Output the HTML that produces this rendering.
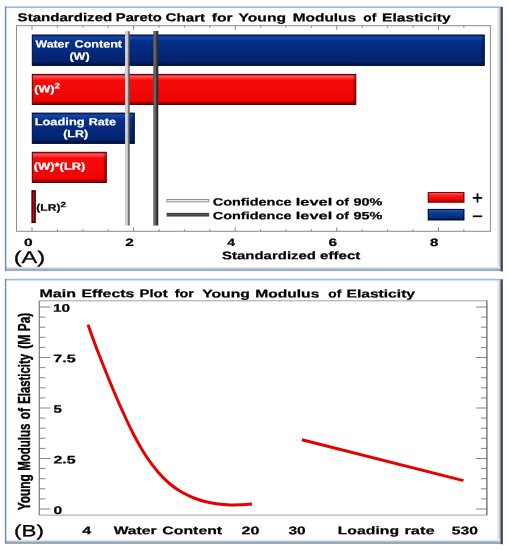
<!DOCTYPE html>
<html>
<head>
<meta charset="utf-8">
<title>Pareto chart and main effects plot</title>
<style>
html,body{margin:0;padding:0;background:#fff;}
body{width:508px;height:550px;overflow:hidden;}
svg{display:block;}
text{font-family:"Liberation Sans",sans-serif;font-weight:bold;fill:#000;stroke:#000;stroke-width:0.22px;}
.w{fill:#fff;stroke:#fff;}
.r{font-weight:normal;stroke-width:0.3px;}
.yl{stroke-width:0.4px;}
</style>
</head>
<body>
<svg width="508" height="550" viewBox="0 0 508 550">
<defs>
  <linearGradient id="shR" x1="0" x2="1" y1="0" y2="0">
    <stop offset="0" stop-color="#ffffff"/>
    <stop offset="0.5" stop-color="#dedede"/>
    <stop offset="1" stop-color="#a8a8a8"/>
  </linearGradient>
  <linearGradient id="shB" x1="0" x2="0" y1="0" y2="1">
    <stop offset="0" stop-color="#ffffff"/>
    <stop offset="0.45" stop-color="#d8d8d8"/>
    <stop offset="1" stop-color="#909090"/>
  </linearGradient>
  <linearGradient id="blue" x1="0" x2="0" y1="0" y2="1">
    <stop offset="0" stop-color="#06226e"/>
    <stop offset="0.07" stop-color="#1648a8"/>
    <stop offset="0.2" stop-color="#062f8c"/>
    <stop offset="0.85" stop-color="#02236f"/>
    <stop offset="1" stop-color="#011550"/>
  </linearGradient>
  <linearGradient id="red" x1="0" x2="0" y1="0" y2="1">
    <stop offset="0" stop-color="#d01010"/>
    <stop offset="0.07" stop-color="#ff5050"/>
    <stop offset="0.2" stop-color="#f80a0a"/>
    <stop offset="0.85" stop-color="#ee0404"/>
    <stop offset="1" stop-color="#b00000"/>
  </linearGradient>
  <linearGradient id="redL" x1="0" x2="0" y1="0" y2="1">
    <stop offset="0" stop-color="#ff5a5a"/>
    <stop offset="0.3" stop-color="#fa1818"/>
    <stop offset="0.75" stop-color="#e80808"/>
    <stop offset="1" stop-color="#b80000"/>
  </linearGradient>
  <linearGradient id="blueL" x1="0" x2="0" y1="0" y2="1">
    <stop offset="0" stop-color="#1a58b4"/>
    <stop offset="0.3" stop-color="#0a3e92"/>
    <stop offset="0.75" stop-color="#07307c"/>
    <stop offset="1" stop-color="#031c58"/>
  </linearGradient>
  <linearGradient id="l90" x1="0" x2="1" y1="0" y2="0">
    <stop offset="0" stop-color="#a0a0a0"/>
    <stop offset="0.15" stop-color="#dadada"/>
    <stop offset="0.5" stop-color="#d0d0d0"/>
    <stop offset="0.7" stop-color="#787878"/>
    <stop offset="1" stop-color="#525252"/>
  </linearGradient>
  <linearGradient id="l95" x1="0" x2="1" y1="0" y2="0">
    <stop offset="0" stop-color="#585858"/>
    <stop offset="0.4" stop-color="#6c6c6c"/>
    <stop offset="0.62" stop-color="#3a3a3a"/>
    <stop offset="1" stop-color="#242424"/>
  </linearGradient>
  <linearGradient id="l95h" x1="0" x2="0" y1="0" y2="1">
    <stop offset="0" stop-color="#2a2a2a"/>
    <stop offset="0.5" stop-color="#5a5a5a"/>
    <stop offset="1" stop-color="#2a2a2a"/>
  </linearGradient>
</defs>

<rect x="0" y="0" width="508" height="550" fill="#ffffff"/>

<!-- PANEL A -->
<g id="panelA">
  <rect x="5" y="7" width="497" height="263.8" fill="#ffffff"/>
  <rect x="496.6" y="8" width="4.2" height="261.8" fill="url(#shR)"/>
  <rect x="6" y="266.4" width="494.4" height="3.8" fill="url(#shB)"/>
  <rect x="5" y="6.4" width="497" height="1.6" fill="#96bcdf"/>
  <rect x="4.9" y="6.4" width="1.4" height="264.8" fill="#5f8fbe"/>
  <rect x="5" y="270.2" width="497" height="0.9" fill="#7ba6d2"/>
  <rect x="500.6" y="7" width="2.3" height="264.4" fill="#3e4b5e"/>

  <text y="21.3" font-size="11.5" transform="rotate(0.03 18 21)"><tspan x="17.59" textLength="94.67" lengthAdjust="spacingAndGlyphs">Standardized</tspan> <tspan x="115.79" textLength="46.01" lengthAdjust="spacingAndGlyphs">Pareto</tspan> <tspan x="165.64" textLength="39.53" lengthAdjust="spacingAndGlyphs">Chart</tspan> <tspan x="211.76" textLength="20.94" lengthAdjust="spacingAndGlyphs">for</tspan> <tspan x="238.52" textLength="47.52" lengthAdjust="spacingAndGlyphs">Young</tspan> <tspan x="292.75" textLength="63.34" lengthAdjust="spacingAndGlyphs">Modulus</tspan> <tspan x="363.23" textLength="13.0" lengthAdjust="spacingAndGlyphs">of</tspan> <tspan x="381.98" textLength="68.68" lengthAdjust="spacingAndGlyphs">Elasticity</tspan></text>
  <rect x="16.5" y="25.7" width="473.9" height="205.6" fill="#ffffff" stroke="#8c8c8c" stroke-width="1"/>
  <g stroke="#5e5e5e" stroke-width="0.75"><path d="M32.00 25.7v4M57.40 25.7v2M82.80 25.7v2M108.20 25.7v2M133.60 25.7v4M159.00 25.7v2M184.40 25.7v2M209.80 25.7v2M235.20 25.7v4M260.60 25.7v2M286.00 25.7v2M311.40 25.7v2M336.80 25.7v4M362.20 25.7v2M387.60 25.7v2M413.00 25.7v2M438.40 25.7v4M463.80 25.7v2"/><path d="M32.00 231.3v-4M57.40 231.3v-2M82.80 231.3v-2M108.20 231.3v-2M133.60 231.3v-4M159.00 231.3v-2M184.40 231.3v-2M209.80 231.3v-2M235.20 231.3v-4M260.60 231.3v-2M286.00 231.3v-2M311.40 231.3v-2M336.80 231.3v-4M362.20 231.3v-2M387.60 231.3v-2M413.00 231.3v-2M438.40 231.3v-4M463.80 231.3v-2"/></g>
  <rect x="32.3" y="35" width="452" height="30.4" fill="url(#blue)" stroke="#000a30" stroke-width="1"/>
  <rect x="481.8" y="35.5" width="2" height="29.4" fill="#000" fill-opacity="0.22"/>
  <rect x="32.8" y="63.1" width="451" height="1.8" fill="#000" fill-opacity="0.18"/>
  <rect x="32.3" y="74.4" width="323.5" height="30.1" fill="url(#red)" stroke="#4a0000" stroke-width="1"/>
  <rect x="353.3" y="74.9" width="2" height="29.1" fill="#000" fill-opacity="0.22"/>
  <rect x="32.8" y="102.2" width="322.5" height="1.8" fill="#000" fill-opacity="0.18"/>
  <rect x="32.3" y="113.1" width="102" height="30.3" fill="url(#blue)" stroke="#000a30" stroke-width="1"/>
  <rect x="131.8" y="113.6" width="2" height="29.3" fill="#000" fill-opacity="0.22"/>
  <rect x="32.8" y="141.1" width="101" height="1.8" fill="#000" fill-opacity="0.18"/>
  <rect x="32.3" y="152.3" width="74" height="30.2" fill="url(#red)" stroke="#4a0000" stroke-width="1"/>
  <rect x="103.8" y="152.8" width="2" height="29.2" fill="#000" fill-opacity="0.22"/>
  <rect x="32.8" y="180.2" width="73" height="1.8" fill="#000" fill-opacity="0.18"/>
  <rect x="32" y="190.8" width="3.2" height="31.6" fill="#d00000" stroke="#200000" stroke-width="1.2"/>
  <rect x="125" y="31.2" width="4.7" height="194.3" fill="url(#l90)"/>
  <rect x="153.3" y="31" width="5" height="194.5" fill="url(#l95)"/>
  <text class="w" y="47.4" font-size="10.3" transform="rotate(0.03 36 47)"><tspan x="35.5" textLength="33.67" lengthAdjust="spacingAndGlyphs">Water</tspan> <tspan x="74.6" textLength="47.42" lengthAdjust="spacingAndGlyphs">Content</tspan></text>
  <text class="w" y="59.8" font-size="10.3" transform="rotate(0.03 70 60)"><tspan x="69.4" textLength="20.19" lengthAdjust="spacingAndGlyphs">(W)</tspan></text>
  <text class="w" transform="rotate(0.03 34 92)" x="34.3" y="92.4" font-size="10.3" textLength="25.6" lengthAdjust="spacingAndGlyphs">(W)<tspan font-size="8" dy="-3.8">2</tspan></text>
  <text class="w" y="125.3" font-size="10.3" transform="rotate(0.03 36 125)"><tspan x="34.67" textLength="49.93" lengthAdjust="spacingAndGlyphs">Loading</tspan> <tspan x="88.68" textLength="27.23" lengthAdjust="spacingAndGlyphs">Rate</tspan></text>
  <text class="w" y="137.3" font-size="10.3" transform="rotate(0.03 64 137)"><tspan x="63.16" textLength="24.96" lengthAdjust="spacingAndGlyphs">(LR)</tspan></text>
  <text class="w" y="169.7" font-size="10.3" transform="rotate(0.03 34 170)"><tspan x="33.79" textLength="51.63" lengthAdjust="spacingAndGlyphs">(W)*(LR)</tspan></text>
  <text transform="rotate(0.03 36 211)" x="36.3" y="210.8" font-size="9.6" textLength="29.6" lengthAdjust="spacingAndGlyphs">(LR)<tspan font-size="7.8" dy="-3.6">2</tspan></text>
  <rect x="167" y="199.5" width="41.8" height="2.4" fill="#e9e9e9" stroke="#7a7a7a" stroke-width="0.8"/>
  <rect x="166.6" y="212.9" width="42.6" height="3.6" fill="url(#l95h)"/>
  <text y="205.4" font-size="10.5" transform="rotate(0.03 213 205)"><tspan x="212.72" textLength="78.75" lengthAdjust="spacingAndGlyphs">Confidence</tspan> <tspan x="295.79" textLength="36.55" lengthAdjust="spacingAndGlyphs">level</tspan> <tspan x="335.78" textLength="13.21" lengthAdjust="spacingAndGlyphs">of</tspan> <tspan x="353.53" textLength="28.81" lengthAdjust="spacingAndGlyphs">90%</tspan></text>
  <text y="219.2" font-size="10.5" transform="rotate(0.03 213 219)"><tspan x="212.72" textLength="78.75" lengthAdjust="spacingAndGlyphs">Confidence</tspan> <tspan x="295.79" textLength="36.55" lengthAdjust="spacingAndGlyphs">level</tspan> <tspan x="335.78" textLength="13.21" lengthAdjust="spacingAndGlyphs">of</tspan> <tspan x="353.53" textLength="28.81" lengthAdjust="spacingAndGlyphs">95%</tspan></text>
  <rect x="427.7" y="192" width="36.8" height="10.8" fill="#8e0000"/>
  <rect x="428.9" y="193.1" width="34.2" height="8.4" fill="url(#redL)"/>
  <rect x="427.7" y="208.9" width="36.8" height="11.6" fill="#00103c"/>
  <rect x="428.9" y="210" width="34.2" height="9.2" fill="url(#blueL)"/>
  <path d="M472.8 197.8h9.4M477.5 193.2v9.2" stroke="#000" stroke-width="1.7" fill="none"/>
  <path d="M472.8 216.3h9.4" stroke="#000" stroke-width="1.7" fill="none"/>
  <text y="246" font-size="10.6" transform="rotate(0.03 24 246)"><tspan x="23.91" textLength="8.69" lengthAdjust="spacingAndGlyphs">0</tspan></text>
  <text y="246" font-size="10.6" transform="rotate(0.03 126 246)"><tspan x="125.2" textLength="8.6" lengthAdjust="spacingAndGlyphs">2</tspan></text>
  <text y="246" font-size="10.6" transform="rotate(0.03 228 246)"><tspan x="227.29" textLength="7.76" lengthAdjust="spacingAndGlyphs">4</tspan></text>
  <text y="246" font-size="10.6" transform="rotate(0.03 329 246)"><tspan x="328.46" textLength="8.56" lengthAdjust="spacingAndGlyphs">6</tspan></text>
  <text y="246" font-size="10.6" transform="rotate(0.03 430 246)"><tspan x="430.05" textLength="8.38" lengthAdjust="spacingAndGlyphs">8</tspan></text>
  <text y="259.3" font-size="11" transform="rotate(0.03 222 259)"><tspan x="222.09" textLength="93.91" lengthAdjust="spacingAndGlyphs">Standardized</tspan> <tspan x="320.13" textLength="40.22" lengthAdjust="spacingAndGlyphs">effect</tspan></text>
  <text class="r" y="262.9" font-size="17" transform="rotate(0.03 15 263)"><tspan x="13.78" textLength="31.44" lengthAdjust="spacingAndGlyphs">(A)</tspan></text>
</g>

<!-- PANEL B -->
<g id="panelB">
  <rect x="5" y="279.4" width="497" height="264.2" fill="#ffffff"/>
  <rect x="496.6" y="280.4" width="4.2" height="262.2" fill="url(#shR)"/>
  <rect x="6" y="539.2" width="494.4" height="3.8" fill="url(#shB)"/>
  <rect x="5" y="278.8" width="497" height="1.6" fill="#96bcdf"/>
  <rect x="4.9" y="278.8" width="1.4" height="265.2" fill="#5f8fbe"/>
  <rect x="5" y="543.0" width="497" height="0.9" fill="#7ba6d2"/>
  <rect x="500.6" y="279.4" width="2.3" height="264.8" fill="#3e4b5e"/>

  <text y="297.3" font-size="11.2" transform="rotate(0.03 40 297)"><tspan x="39.46" textLength="36.51" lengthAdjust="spacingAndGlyphs">Main</tspan> <tspan x="81.47" textLength="52.91" lengthAdjust="spacingAndGlyphs">Effects</tspan> <tspan x="139.53" textLength="28.14" lengthAdjust="spacingAndGlyphs">Plot</tspan> <tspan x="174.78" textLength="19.15" lengthAdjust="spacingAndGlyphs">for</tspan> <tspan x="202.27" textLength="47.52" lengthAdjust="spacingAndGlyphs">Young</tspan> <tspan x="255.24" textLength="64.11" lengthAdjust="spacingAndGlyphs">Modulus</tspan> <tspan x="328.23" textLength="13.0" lengthAdjust="spacingAndGlyphs">of</tspan> <tspan x="346.48" textLength="68.57" lengthAdjust="spacingAndGlyphs">Elasticity</tspan></text>
  <rect x="39.3" y="300.8" width="447.6" height="214.3" fill="#ffffff" stroke="#a2a2a2" stroke-width="1"/>
  <path d="M486.9 300.8V515.1" stroke="#5c5c5c" stroke-width="0.9" fill="none"/><path d="M39.3 300.8V515.1" stroke="#808080" stroke-width="1" fill="none"/>
  <g stroke="#5e5e5e" stroke-width="0.75"><path d="M39.3 307.00h11M39.3 357.50h11M39.3 408.00h11M39.3 458.50h11M39.3 509.00h11M39.3 317.10h6M39.3 327.20h6M39.3 337.30h6M39.3 347.40h6M39.3 367.60h6M39.3 377.70h6M39.3 387.80h6M39.3 397.90h6M39.3 418.10h6M39.3 428.20h6M39.3 438.30h6M39.3 448.40h6M39.3 468.60h6M39.3 478.70h6M39.3 488.80h6M39.3 498.90h6"/><path d="M486.9 307.00h-11M486.9 357.50h-11M486.9 408.00h-11M486.9 458.50h-11M486.9 509.00h-11M486.9 317.10h-6M486.9 327.20h-6M486.9 337.30h-6M486.9 347.40h-6M486.9 367.60h-6M486.9 377.70h-6M486.9 387.80h-6M486.9 397.90h-6M486.9 418.10h-6M486.9 428.20h-6M486.9 438.30h-6M486.9 448.40h-6M486.9 468.60h-6M486.9 478.70h-6M486.9 488.80h-6M486.9 498.90h-6"/></g>
  <text y="311.7" font-size="11" transform="rotate(0.03 54 312)"><tspan x="53.03" textLength="17.18" lengthAdjust="spacingAndGlyphs">10</tspan></text>
  <text y="362.2" font-size="11" transform="rotate(0.03 54 362)"><tspan x="53.32" textLength="22.39" lengthAdjust="spacingAndGlyphs">7.5</tspan></text>
  <text y="412.8" font-size="11" transform="rotate(0.03 54 413)"><tspan x="53.55" textLength="8.34" lengthAdjust="spacingAndGlyphs">5</tspan></text>
  <text y="463.4" font-size="11" transform="rotate(0.03 54 463)"><tspan x="53.48" textLength="22.22" lengthAdjust="spacingAndGlyphs">2.5</tspan></text>
  <text y="514" font-size="11" transform="rotate(0.03 54 514)"><tspan x="53.41" textLength="8.69" lengthAdjust="spacingAndGlyphs">0</tspan></text>
  <text class="yl" y="0" font-size="16" transform="translate(30 510) rotate(-90)"><tspan x="-0.18" textLength="35.96" lengthAdjust="spacingAndGlyphs">Young</tspan> <tspan x="39.25" textLength="47.18" lengthAdjust="spacingAndGlyphs">Modulus</tspan> <tspan x="90.65" textLength="11.23" lengthAdjust="spacingAndGlyphs">of</tspan> <tspan x="106.26" textLength="49.78" lengthAdjust="spacingAndGlyphs">Elasticity</tspan> <tspan x="161.23" textLength="14.07" lengthAdjust="spacingAndGlyphs">(M</tspan> <tspan x="178.84" textLength="18.23" lengthAdjust="spacingAndGlyphs">Pa)</tspan></text>
  <path d="M88.0 324.8 C89.7 329.3 94.3 342.5 98.0 352.0 C101.7 361.5 106.0 372.3 110.0 382.0 C114.0 391.7 118.0 401.1 122.0 410.0 C126.0 418.9 130.0 427.5 134.0 435.2 C138.0 442.9 142.0 449.9 146.0 456.0 C150.0 462.1 154.0 467.3 158.0 472.0 C162.0 476.7 166.0 480.6 170.0 484.0 C174.0 487.4 178.0 490.0 182.0 492.3 C186.0 494.6 190.0 496.4 194.0 498.0 C198.0 499.6 202.0 500.8 206.0 501.8 C210.0 502.8 214.0 503.5 218.0 504.0 C222.0 504.5 226.0 504.8 230.0 504.9 C234.0 505.0 238.3 504.9 242.0 504.8 C245.7 504.7 250.3 504.2 252.0 504.1" fill="none" stroke="#e60000" stroke-width="3" stroke-linejoin="round"/>

  <path d="M301.9 439.8 L463.5 480.6" fill="none" stroke="#e60000" stroke-width="3"/>
  <text y="534.3" font-size="11" transform="rotate(0.03 82 534)"><tspan x="82.26" textLength="9.05" lengthAdjust="spacingAndGlyphs">4</tspan></text>
  <text y="534.3" font-size="11.2" transform="rotate(0.03 114 534)"><tspan x="113.75" textLength="42.71" lengthAdjust="spacingAndGlyphs">Water</tspan> <tspan x="162.37" textLength="59.78" lengthAdjust="spacingAndGlyphs">Content</tspan></text>
  <text y="534.3" font-size="11" transform="rotate(0.03 242 534)"><tspan x="241.48" textLength="17.92" lengthAdjust="spacingAndGlyphs">20</tspan></text>
  <text y="534.3" font-size="11" transform="rotate(0.03 289 534)"><tspan x="288.4" textLength="17.21" lengthAdjust="spacingAndGlyphs">30</tspan></text>
  <text y="534.3" font-size="11.2" transform="rotate(0.03 339 534)"><tspan x="337.73" textLength="61.31" lengthAdjust="spacingAndGlyphs">Loading</tspan> <tspan x="404.43" textLength="30.13" lengthAdjust="spacingAndGlyphs">rate</tspan></text>
  <text y="534.3" font-size="11" transform="rotate(0.03 452 534)"><tspan x="451.78" textLength="26.07" lengthAdjust="spacingAndGlyphs">530</tspan></text>
  <text class="r" y="536.3" font-size="16.3" transform="rotate(0.03 15 536)"><tspan x="14.06" textLength="29.79" lengthAdjust="spacingAndGlyphs">(B)</tspan></text>
</g>
</svg>
</body>
</html>
